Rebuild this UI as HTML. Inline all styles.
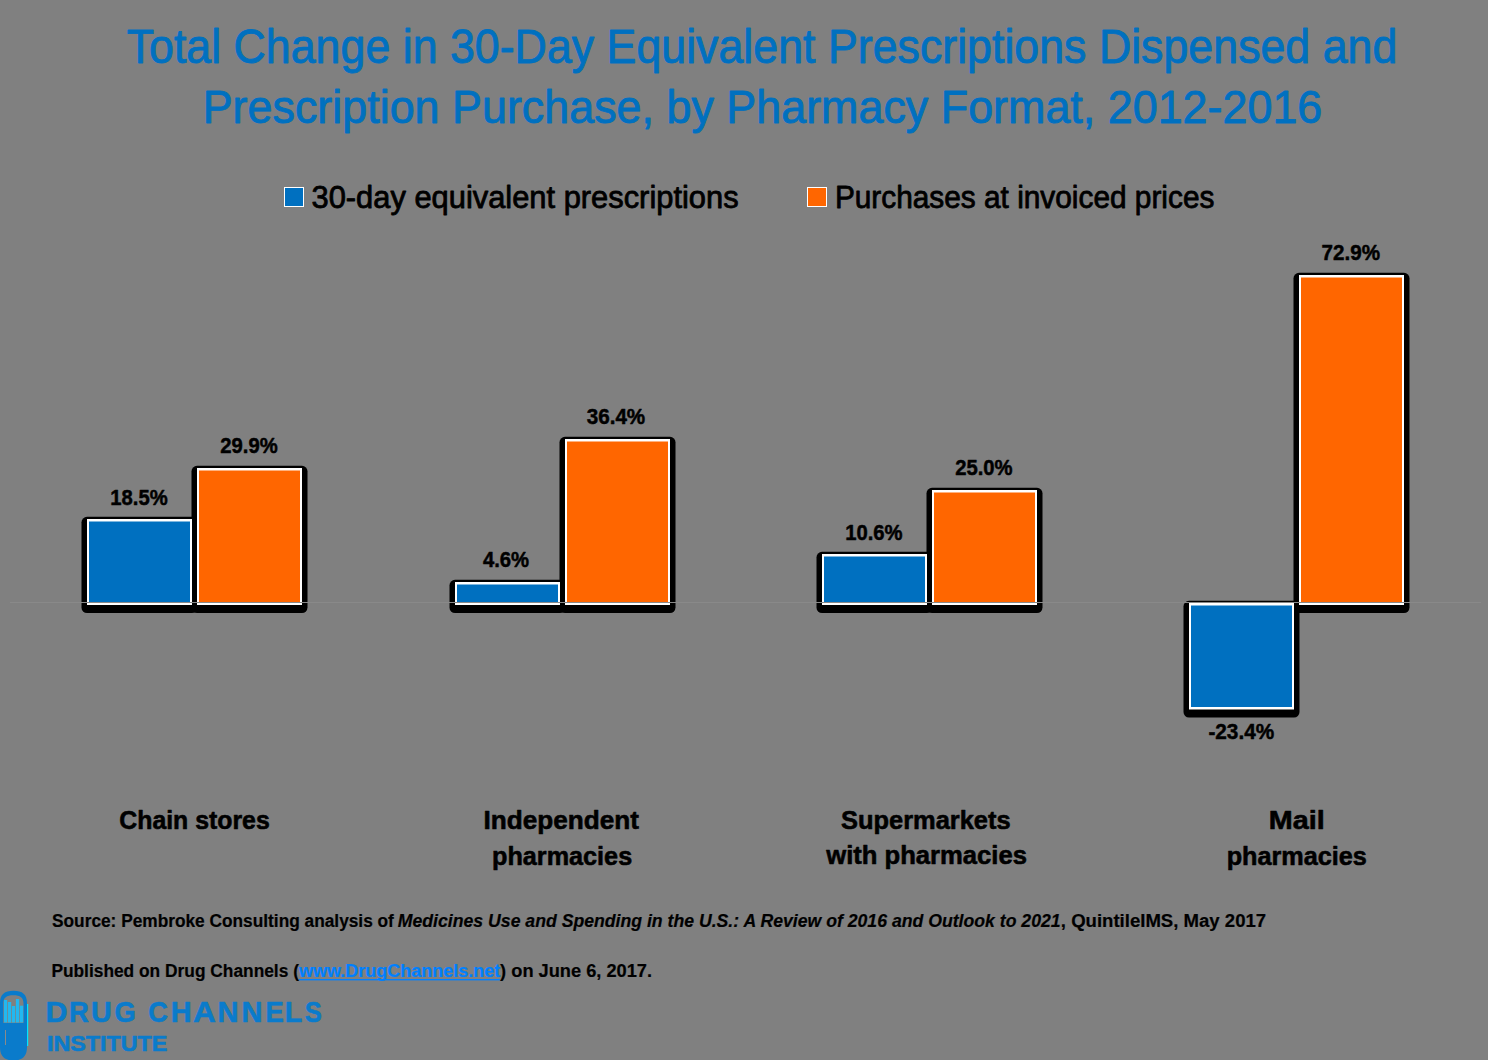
<!DOCTYPE html>
<html><head><meta charset="utf-8"><style>
html,body{margin:0;padding:0;background:#808080;width:1488px;height:1060px;overflow:hidden}
svg{display:block;font-family:"Liberation Sans", sans-serif}
</style></head><body>
<svg width="1488" height="1060" viewBox="0 0 1488 1060">
<rect width="1488" height="1060" fill="#808080"/>
<text id="title1" x="762.00" y="62.90" font-size="47.5" stroke="#0070C0" stroke-width="0.9" stroke-linejoin="round" fill="#0070C0" text-anchor="middle" textLength="1270.69" lengthAdjust="spacingAndGlyphs">Total Change in 30-Day Equivalent Prescriptions Dispensed and</text>
<text id="title2" x="762.50" y="122.50" font-size="47" stroke="#0070C0" stroke-width="0.9" stroke-linejoin="round" fill="#0070C0" text-anchor="middle" textLength="1119.63" lengthAdjust="spacingAndGlyphs">Prescription Purchase, by Pharmacy Format, 2012-2016</text>
<rect x="284.5" y="187.5" width="19" height="19" fill="#0070C0" stroke="#fff" stroke-width="1"/>
<rect x="807.5" y="187.5" width="19" height="19" fill="#FF6600" stroke="#fff" stroke-width="1"/>
<text id="leg1" x="311.50" y="207.80" font-size="31" stroke="#000" stroke-width="0.8" stroke-linejoin="round" fill="#000" text-anchor="start" textLength="427.10" lengthAdjust="spacingAndGlyphs">30-day equivalent prescriptions</text>
<text id="leg2" x="834.88" y="207.80" font-size="31" stroke="#000" stroke-width="0.8" stroke-linejoin="round" fill="#000" text-anchor="start" textLength="379.50" lengthAdjust="spacingAndGlyphs">Purchases at invoiced prices</text>
<rect x="81.5" y="516.8" width="116" height="96.2" rx="5.5" fill="#000"/>
<rect x="191.5" y="465.8" width="116" height="147.2" rx="5.5" fill="#000"/>
<rect x="449.5" y="579.8" width="116" height="33.2" rx="5.5" fill="#000"/>
<rect x="559.5" y="436.8" width="116" height="176.2" rx="5.5" fill="#000"/>
<rect x="816.5" y="551.8" width="116" height="61.2" rx="5.5" fill="#000"/>
<rect x="926.5" y="487.8" width="116" height="125.2" rx="5.5" fill="#000"/>
<rect x="1183.5" y="600.8" width="116" height="116.7" rx="5.5" fill="#000"/>
<rect x="1293.5" y="272.8" width="116" height="340.2" rx="5.5" fill="#000"/>
<rect x="87" y="519" width="105" height="86" fill="#fff"/>
<rect x="89" y="521.5" width="101" height="81" fill="#0070C0"/>
<rect x="197" y="468" width="105" height="137" fill="#fff"/>
<rect x="199" y="470.5" width="101" height="132" fill="#FF6600"/>
<rect x="455" y="582" width="105" height="23" fill="#fff"/>
<rect x="457" y="584.5" width="101" height="18" fill="#0070C0"/>
<rect x="565" y="439" width="105" height="166" fill="#fff"/>
<rect x="567" y="441.5" width="101" height="161" fill="#FF6600"/>
<rect x="822" y="554" width="105" height="51" fill="#fff"/>
<rect x="824" y="556.5" width="101" height="46" fill="#0070C0"/>
<rect x="932" y="490" width="105" height="115" fill="#fff"/>
<rect x="934" y="492.5" width="101" height="110" fill="#FF6600"/>
<rect x="1189" y="603" width="105" height="106.5" fill="#fff"/>
<rect x="1191" y="605.5" width="101" height="101.5" fill="#0070C0"/>
<rect x="1299" y="275" width="105" height="330" fill="#fff"/>
<rect x="1301" y="277.5" width="101" height="325" fill="#FF6600"/>
<rect x="10" y="602" width="1471" height="1" fill="#898989"/>
<text id="lab18" x="139.00" y="505.00" font-size="22" font-weight="bold" stroke="#000" stroke-width="0.5" stroke-linejoin="round" fill="#000" text-anchor="middle" textLength="57.34" lengthAdjust="spacingAndGlyphs">18.5%</text>
<text id="lab29" x="249.00" y="452.80" font-size="22" font-weight="bold" stroke="#000" stroke-width="0.5" stroke-linejoin="round" fill="#000" text-anchor="middle" textLength="57.33" lengthAdjust="spacingAndGlyphs">29.9%</text>
<text id="lab4" x="506.00" y="566.80" font-size="22" font-weight="bold" stroke="#000" stroke-width="0.5" stroke-linejoin="round" fill="#000" text-anchor="middle" textLength="46.19" lengthAdjust="spacingAndGlyphs">4.6%</text>
<text id="lab36" x="616.00" y="423.90" font-size="22" font-weight="bold" stroke="#000" stroke-width="0.5" stroke-linejoin="round" fill="#000" text-anchor="middle" textLength="58.41" lengthAdjust="spacingAndGlyphs">36.4%</text>
<text id="lab10" x="873.90" y="540.00" font-size="22" font-weight="bold" stroke="#000" stroke-width="0.5" stroke-linejoin="round" fill="#000" text-anchor="middle" textLength="57.34" lengthAdjust="spacingAndGlyphs">10.6%</text>
<text id="lab25" x="983.90" y="475.00" font-size="22" font-weight="bold" stroke="#000" stroke-width="0.5" stroke-linejoin="round" fill="#000" text-anchor="middle" textLength="57.33" lengthAdjust="spacingAndGlyphs">25.0%</text>
<text id="labm23" x="1241.30" y="738.90" font-size="22" font-weight="bold" stroke="#000" stroke-width="0.5" stroke-linejoin="round" fill="#000" text-anchor="middle" textLength="65.71" lengthAdjust="spacingAndGlyphs">-23.4%</text>
<text id="lab72" x="1350.80" y="260.00" font-size="22" font-weight="bold" stroke="#000" stroke-width="0.5" stroke-linejoin="round" fill="#000" text-anchor="middle" textLength="58.42" lengthAdjust="spacingAndGlyphs">72.9%</text>
<text id="chain" x="194.50" y="828.60" font-size="26.5" font-weight="bold" stroke="#000" stroke-width="0.6" stroke-linejoin="round" fill="#000" text-anchor="middle" textLength="150.43" lengthAdjust="spacingAndGlyphs">Chain stores</text>
<text id="indep" x="561.30" y="828.80" font-size="26.5" font-weight="bold" stroke="#000" stroke-width="0.6" stroke-linejoin="round" fill="#000" text-anchor="middle" textLength="155.53" lengthAdjust="spacingAndGlyphs">Independent</text>
<text id="pharm1" x="562.10" y="864.70" font-size="26.5" font-weight="bold" stroke="#000" stroke-width="0.6" stroke-linejoin="round" fill="#000" text-anchor="middle" textLength="140.18" lengthAdjust="spacingAndGlyphs">pharmacies</text>
<text id="super" x="925.80" y="828.70" font-size="26.5" font-weight="bold" stroke="#000" stroke-width="0.6" stroke-linejoin="round" fill="#000" text-anchor="middle" textLength="169.71" lengthAdjust="spacingAndGlyphs">Supermarkets</text>
<text id="withph" x="926.60" y="864.30" font-size="26.5" font-weight="bold" stroke="#000" stroke-width="0.6" stroke-linejoin="round" fill="#000" text-anchor="middle" textLength="200.67" lengthAdjust="spacingAndGlyphs">with pharmacies</text>
<text id="mail" x="1296.70" y="829.00" font-size="26.5" font-weight="bold" stroke="#000" stroke-width="0.6" stroke-linejoin="round" fill="#000" text-anchor="middle" textLength="55.92" lengthAdjust="spacingAndGlyphs">Mail</text>
<text id="pharm2" x="1296.80" y="864.50" font-size="26.5" font-weight="bold" stroke="#000" stroke-width="0.6" stroke-linejoin="round" fill="#000" text-anchor="middle" textLength="140.22" lengthAdjust="spacingAndGlyphs">pharmacies</text>
<text id="src_a" x="52.04" y="926.50" font-size="18" font-weight="bold" stroke="#000" stroke-width="0.2" stroke-linejoin="round" fill="#000" text-anchor="start" textLength="341.85" lengthAdjust="spacingAndGlyphs">Source: Pembroke Consulting analysis of</text>
<text id="src_it" x="397.81" y="926.50" font-size="18" font-weight="bold" stroke="#000" stroke-width="0.2" stroke-linejoin="round" font-style="italic" fill="#000" text-anchor="start" textLength="662.83" lengthAdjust="spacingAndGlyphs">Medicines Use and Spending in the U.S.: A Review of 2016 and Outlook to 2021</text>
<text id="src_b" x="1060.88" y="926.50" font-size="18" font-weight="bold" stroke="#000" stroke-width="0.2" stroke-linejoin="round" fill="#000" text-anchor="start" textLength="205.23" lengthAdjust="spacingAndGlyphs">, QuintileIMS, May 2017</text>
<text id="pub_a" x="51.39" y="976.60" font-size="18" font-weight="bold" stroke="#000" stroke-width="0.2" stroke-linejoin="round" fill="#000" text-anchor="start" textLength="247.54" lengthAdjust="spacingAndGlyphs">Published on Drug Channels (</text>
<text id="link" x="298.99" y="976.60" font-size="18" font-weight="bold" stroke="#0080FF" stroke-width="0.2" stroke-linejoin="round" fill="#0080FF" text-anchor="start" textLength="201.37" lengthAdjust="spacingAndGlyphs">www.DrugChannels.net</text>
<text id="pub_b" x="500.14" y="976.60" font-size="18" font-weight="bold" stroke="#000" stroke-width="0.2" stroke-linejoin="round" fill="#000" text-anchor="start" textLength="151.95" lengthAdjust="spacingAndGlyphs">) on June 6, 2017.</text>
<text id="lg0" x="56.45" y="1022.00" font-size="29.6" font-weight="bold" stroke="#0A7BCB" stroke-width="0.6" stroke-linejoin="round" fill="#0A7BCB" text-anchor="middle" textLength="21.94" lengthAdjust="spacingAndGlyphs">D</text>
<text id="lg1" x="79.00" y="1022.00" font-size="29.6" font-weight="bold" stroke="#0A7BCB" stroke-width="0.6" stroke-linejoin="round" fill="#0A7BCB" text-anchor="middle" textLength="19.79" lengthAdjust="spacingAndGlyphs">R</text>
<text id="lg2" x="101.40" y="1022.00" font-size="29.6" font-weight="bold" stroke="#0A7BCB" stroke-width="0.6" stroke-linejoin="round" fill="#0A7BCB" text-anchor="middle" textLength="20.67" lengthAdjust="spacingAndGlyphs">U</text>
<text id="lg3" x="125.15" y="1022.00" font-size="29.6" font-weight="bold" stroke="#0A7BCB" stroke-width="0.6" stroke-linejoin="round" fill="#0A7BCB" text-anchor="middle" textLength="21.20" lengthAdjust="spacingAndGlyphs">G</text>
<text id="lg4" x="158.00" y="1022.00" font-size="29.6" font-weight="bold" stroke="#0A7BCB" stroke-width="0.6" stroke-linejoin="round" fill="#0A7BCB" text-anchor="middle" textLength="19.60" lengthAdjust="spacingAndGlyphs">C</text>
<text id="lg5" x="181.25" y="1022.00" font-size="29.6" font-weight="bold" stroke="#0A7BCB" stroke-width="0.6" stroke-linejoin="round" fill="#0A7BCB" text-anchor="middle" textLength="20.80" lengthAdjust="spacingAndGlyphs">H</text>
<text id="lg6" x="204.45" y="1022.00" font-size="29.6" font-weight="bold" stroke="#0A7BCB" stroke-width="0.6" stroke-linejoin="round" fill="#0A7BCB" text-anchor="middle" textLength="22.81" lengthAdjust="spacingAndGlyphs">A</text>
<text id="lg7" x="228.00" y="1022.00" font-size="29.6" font-weight="bold" stroke="#0A7BCB" stroke-width="0.6" stroke-linejoin="round" fill="#0A7BCB" text-anchor="middle" textLength="21.00" lengthAdjust="spacingAndGlyphs">N</text>
<text id="lg8" x="251.95" y="1022.00" font-size="29.6" font-weight="bold" stroke="#0A7BCB" stroke-width="0.6" stroke-linejoin="round" fill="#0A7BCB" text-anchor="middle" textLength="20.92" lengthAdjust="spacingAndGlyphs">N</text>
<text id="lg9" x="274.50" y="1022.00" font-size="29.6" font-weight="bold" stroke="#0A7BCB" stroke-width="0.6" stroke-linejoin="round" fill="#0A7BCB" text-anchor="middle" textLength="18.25" lengthAdjust="spacingAndGlyphs">E</text>
<text id="lg10" x="293.50" y="1022.00" font-size="29.6" font-weight="bold" stroke="#0A7BCB" stroke-width="0.6" stroke-linejoin="round" fill="#0A7BCB" text-anchor="middle" textLength="17.50" lengthAdjust="spacingAndGlyphs">L</text>
<text id="lg11" x="313.35" y="1022.00" font-size="29.6" font-weight="bold" stroke="#0A7BCB" stroke-width="0.6" stroke-linejoin="round" fill="#0A7BCB" text-anchor="middle" textLength="16.99" lengthAdjust="spacingAndGlyphs">S</text>
<text id="inst" x="46.92" y="1051.00" font-size="22.5" font-weight="bold" stroke="#0A7BCB" stroke-width="0.6" stroke-linejoin="round" fill="#0A7BCB" text-anchor="start" textLength="120.40" lengthAdjust="spacingAndGlyphs">INSTITUTE</text>
<rect x="299" y="979" width="201" height="1.4" fill="#0080FF"/>
<path fill-rule="evenodd" fill="#0A7BCB" d="M0,1003 C0,994.5 4.5,990.8 13.5,990.8 C22.5,990.8 27,994.5 27,1003 L27,1047 C27,1056 22.5,1060.5 13.5,1060.5 C4.5,1060.5 0,1056 0,1047 Z M3.3,1003.5 C3.3,997.5 6.5,995.2 13.4,995.2 C20.3,995.2 23.5,997.5 23.5,1003.5 L23.5,1023 L3.3,1023 Z"/>
<rect x="4" y="1000" width="3.2" height="22.5" fill="#22B8F0"/>
<rect x="7.9" y="1002" width="3.299999999999999" height="20.5" fill="#22B8F0"/>
<rect x="11.9" y="1006" width="3.299999999999999" height="16.5" fill="#22B8F0"/>
<rect x="15.9" y="999" width="3.299999999999999" height="23.5" fill="#22B8F0"/>
<rect x="19.9" y="1005.7" width="3.3000000000000007" height="16.799999999999955" fill="#22B8F0"/>
<rect x="5" y="1030" width="1" height="15" fill="#8a8a8a"/>
<rect x="27" y="1004" width="1.2" height="42" fill="#00E5FF"/>
</svg>
</body></html>
